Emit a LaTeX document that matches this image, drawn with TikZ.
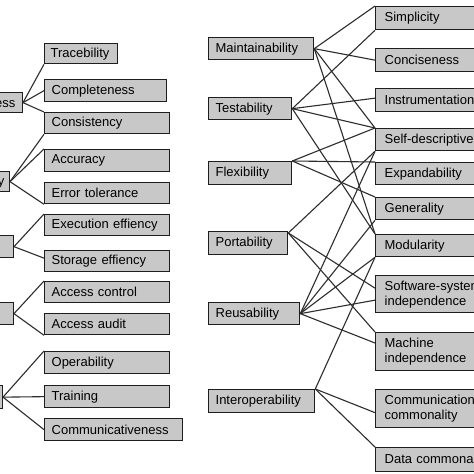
\documentclass[tikz,border=0pt]{standalone}
\usepackage{fontspec}
\setmainfont{Liberation Sans}
\definecolor{boxfill}{RGB}{200,200,200}
\definecolor{boxline}{RGB}{30,30,30}
\definecolor{linkc}{RGB}{45,45,45}
\tikzset{
  qbox/.style={draw=boxline, fill=boxfill, line width=1.3pt, inner xsep=7pt, inner ysep=0pt,
    anchor=north west, align=left, font=\fontsize{13}{15}\selectfont},
  rbox/.style={qbox, inner xsep=9pt, text width=140pt},
  pbox/.style={qbox, anchor=north east, align=right},
  link/.style={draw=linkc, line width=1.1pt},
}
\begin{document}
\begin{tikzpicture}[x=1pt,y=-1pt]
\useasboundingbox (0,0) rectangle (474,474);
\fill[white] (0,0) rectangle (474,474);
\clip (0,0) rectangle (474,474);
% left parents (cropped at page edge)
\node[pbox, text width=86pt, minimum height=20pt] (corr) at (23,92) {Correctness};
\node[pbox, inner xsep=5pt, text width=90pt, minimum height=20pt] (reli) at (10,171) {Reliability};
\node[pbox, minimum width=100pt, minimum height=22pt] (effi) at (14,235) {};
\node[pbox, minimum width=100pt, minimum height=22pt] (integ) at (14,302) {};
\node[pbox, minimum width=100pt, minimum height=23pt] (usab) at (3,385) {};
% left criteria
\node[qbox, inner xsep=6pt, text width=61pt, minimum height=20pt] (trace) at (44,43) {Tracebility};
\node[qbox, text width=108pt, minimum height=22pt] (compl) at (44,79) {Completeness};
\node[qbox, text width=111pt, minimum height=21pt] (consis) at (44,112) {Consistency};
\node[qbox, text width=111pt, minimum height=22pt] (accur) at (44,149) {Accuracy};
\node[qbox, text width=111pt, minimum height=21pt] (errtol) at (44,182) {Error tolerance};
\node[qbox, text width=111pt, minimum height=21pt] (exec) at (44,214) {Execution effiency};
\node[qbox, text width=111pt, minimum height=21pt] (stor) at (44,250) {Storage effiency};
\node[qbox, text width=111pt, minimum height=21pt] (acctrl) at (44,281) {Access control};
\node[qbox, text width=111pt, minimum height=21pt] (accaud) at (44,313) {Access audit};
\node[qbox, text width=111pt, minimum height=22pt] (oper) at (44,351) {Operability};
\node[qbox, text width=111pt, minimum height=22pt] (train) at (44,385) {Training};
\node[qbox, text width=124pt, minimum height=22pt] (commun) at (44,418) {Communicativeness};
% middle factors
\node[qbox, text width=91pt, minimum height=22pt] (maint) at (208,37) {Maintainability};
\node[qbox, text width=69pt, minimum height=22pt] (test) at (208,97) {Testability};
\node[qbox, text width=69pt, minimum height=23pt] (flex) at (208,161) {Flexibility};
\node[qbox, text width=65pt, minimum height=23pt] (port) at (208,231) {Portability};
\node[qbox, text width=77pt, minimum height=22pt] (reus) at (208,302) {Reusability};
\node[qbox, text width=92pt, minimum height=23pt] (inter) at (208,389) {Interoperability};
% right criteria (cropped at page edge)
\node[rbox, minimum height=23pt] (simp) at (375,6) {Simplicity};
\node[rbox, minimum height=23pt] (conc) at (375,48) {Conciseness};
\node[rbox, minimum height=23pt] (instr) at (375,88) {Instrumentation};
\node[rbox, minimum height=22pt] (selfd) at (375,128) {Self-descriptiveness};
\node[rbox, minimum height=22pt] (expand) at (375,162) {Expandability};
\node[rbox, minimum height=22pt] (gener) at (375,197) {Generality};
\node[rbox, minimum height=22pt] (modul) at (375,234) {Modularity};
\node[rbox, minimum height=37pt] (swind) at (375,275) {Software-system\\independence};
\node[rbox, minimum height=38pt] (machind) at (375,332) {Machine\\independence};
\node[rbox, minimum height=38pt] (commc) at (375,389) {Communication\\commonality};
\node[rbox, minimum height=24pt] (datac) at (375,447) {Data commonality};
% left links
\draw[link] (corr.east) -- (trace.south west);
\draw[link] (corr.east) -- (compl.west);
\draw[link] (corr.east) -- (consis.north west);
\draw[link] (reli.east) -- (consis.south west);
\draw[link] (reli.east) -- (accur.north west);
\draw[link] (reli.east) -- (errtol.south west);
\draw[link] (effi.east) -- (exec.north west);
\draw[link] (effi.east) -- ([yshift=3pt]stor.west);
\draw[link] (integ.east) -- (acctrl.north west);
\draw[link] (integ.east) -- (accaud.south west);
\draw[link] (usab.east) -- (oper.north west);
\draw[link] (usab.east) -- (train.west);
\draw[link] (usab.east) -- (commun.west);
% middle-right links
\draw[link] (maint.east) -- (simp.north west);
\draw[link] (maint.east) -- (conc.west);
\draw[link] (maint.east) -- (selfd.north west);
\draw[link] (maint.east) -- (modul.north west);
\draw[link] (test.east) -- (simp.south west);
\draw[link] (test.east) -- ([yshift=2pt]instr.west);
\draw[link] (test.east) -- (selfd.north west);
\draw[link] (test.east) -- (modul.north west);
\draw[link] (flex.north east) -- (selfd.north west);
\draw[link] (flex.north east) -- (expand.north west);
\draw[link] (flex.north east) -- (gener.north west);
\coordinate (portc) at ([yshift=-2pt]port.north east);
\draw[link] (portc) -- (selfd.south west);
\draw[link] (portc) -- ([yshift=6pt]swind.west);
\draw[link] (portc) -- (machind.north west);
\draw[link] (reus.east) -- (selfd.south west);
\draw[link] (reus.east) -- (gener.south west);
\draw[link] (reus.east) -- (modul.south west);
\draw[link] (reus.east) -- ([yshift=-6pt]swind.west);
\draw[link] (reus.east) -- ([yshift=-11pt]machind.north west);
\draw[link] (inter.north east) -- (modul.south west);
\draw[link] (inter.north east) -- ([yshift=-4pt]commc.west);
\draw[link] (inter.north east) -- (datac.north west);
\end{tikzpicture}
\end{document}
